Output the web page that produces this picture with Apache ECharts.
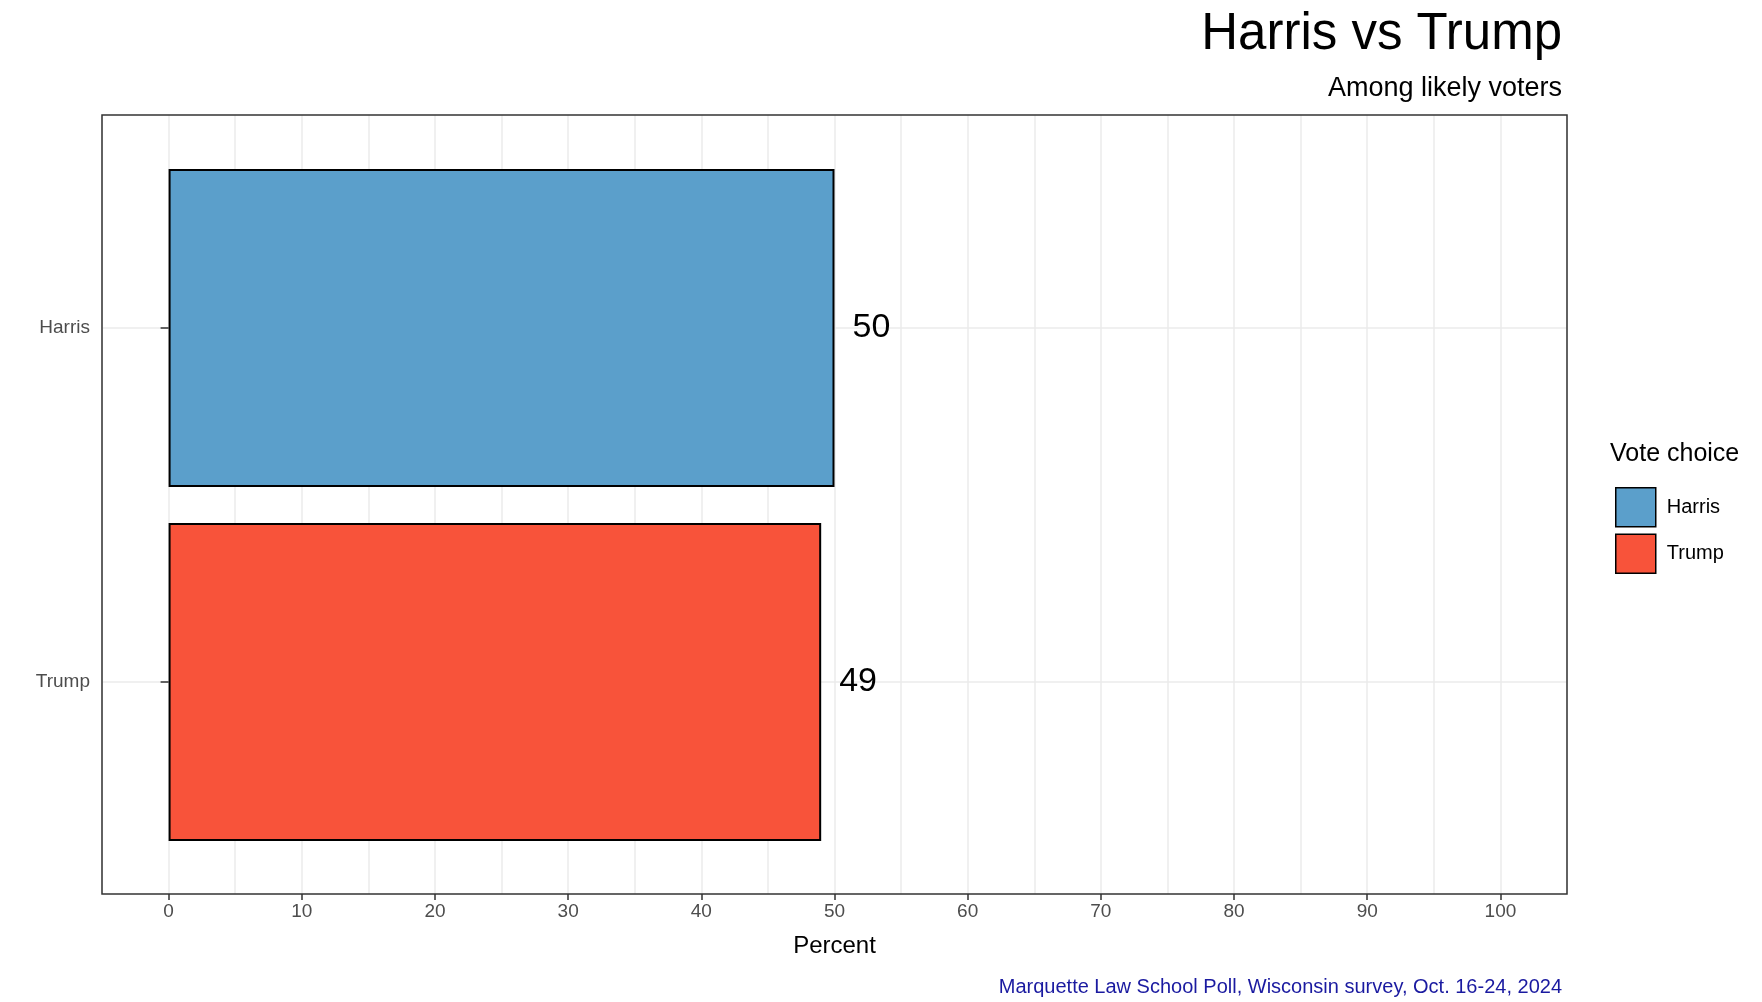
<!DOCTYPE html><html><head><meta charset="utf-8"><script src="https://cdn.jsdelivr.net/npm/echarts@6/dist/echarts.min.js"></script>
<style>html,body{margin:0;padding:0;background:#fff}#c{width:1762px;height:1002px}</style></head><body><div id="c"></div><script>
const categories=['Harris','Trump'];
const values=[50,49];
const colors=['#5b9fcb','#f8533a'];
const xTicks=[0,10,20,30,40,50,60,70,80,90,100];
const F='Liberation Sans, Arial, sans-serif';
const L=102,R=195,T=115,B=108; // plot frame
const chart=echarts.init(document.getElementById('c'));
chart.setOption({
 animation:false,
 textStyle:{fontFamily:F},
 title:[{text:'Harris vs Trump',right:195,top:4,textStyle:{fontSize:51,fontWeight:'normal',color:'#000',fontFamily:F}},
   {text:'Among likely voters',right:195,top:70,textStyle:{fontSize:27,fontWeight:'normal',color:'#000',fontFamily:F}},
   {text:'Marquette Law School Poll, Wisconsin survey, Oct. 16-24, 2024',right:195,top:972,textStyle:{fontSize:20,fontWeight:'normal',color:'#1a1aa0',fontFamily:F}}],
 legend:{orient:'vertical',left:1610,top:482,itemWidth:40,itemHeight:39,itemGap:6,textStyle:{fontSize:20,color:'#000',fontFamily:F,padding:[0,0,0,6]},
   data:categories.map((c,i)=>({name:c,icon:'rect',itemStyle:{color:colors[i],borderColor:'#000',borderWidth:1.5}}))},
 graphic:[{type:'text',left:1610,top:442,style:{text:'Vote choice',fontSize:25,fill:'#000',fontFamily:F}},
   {type:'rect',shape:{x:L,y:T,width:1762-L-R,height:1002-T-B},style:{fill:'none',stroke:'#333',lineWidth:1.5},z:100}],
 grid:[{left:L,right:R,top:328,bottom:1002-682},{left:L,right:R,top:T,bottom:B}],
 xAxis:[
  {gridIndex:0,type:'value',min:-5,max:105,show:false},
  {gridIndex:1,type:'value',min:-5,max:105,position:'bottom',axisLine:{show:false},
   axisTick:{show:true,customValues:xTicks,length:6,lineStyle:{color:'#333',width:1.5}},
   axisLabel:{customValues:xTicks,fontSize:19,color:'#4d4d4d',margin:8,fontFamily:F},splitLine:{show:false},
   name:'Percent',nameLocation:'middle',nameGap:40,nameTextStyle:{fontSize:24,color:'#000',fontFamily:F}},
  {gridIndex:1,type:'value',min:-5,max:105,interval:5,axisLine:{show:false},axisTick:{show:false},axisLabel:{show:false},
   splitLine:{show:true,lineStyle:{color:'#ebebeb',width:1.5}}}
 ],
 yAxis:[
  {gridIndex:0,type:'category',data:categories,inverse:true,boundaryGap:false,axisLine:{show:false},
   axisTick:{show:true,length:8,lineStyle:{color:'#333',width:1.5}},
   axisLabel:{fontSize:19,color:'#4d4d4d',margin:12,fontFamily:F},
   splitLine:{show:true,lineStyle:{color:'#ebebeb',width:1.5}}},
  {gridIndex:1,type:'value',show:false}
 ],
 series:categories.map((c,i)=>({name:c,type:'bar',xAxisIndex:0,yAxisIndex:0,barWidth:318,barGap:'-100%',z:5,
   data:categories.map((cc,j)=>j===i?values[i]:null),
   itemStyle:{color:colors[i],borderColor:'#000',borderWidth:2},
   label:{show:true,position:'right',distance:18,fontSize:34,color:'#000',fontFamily:F}}))
});
</script></body></html>
